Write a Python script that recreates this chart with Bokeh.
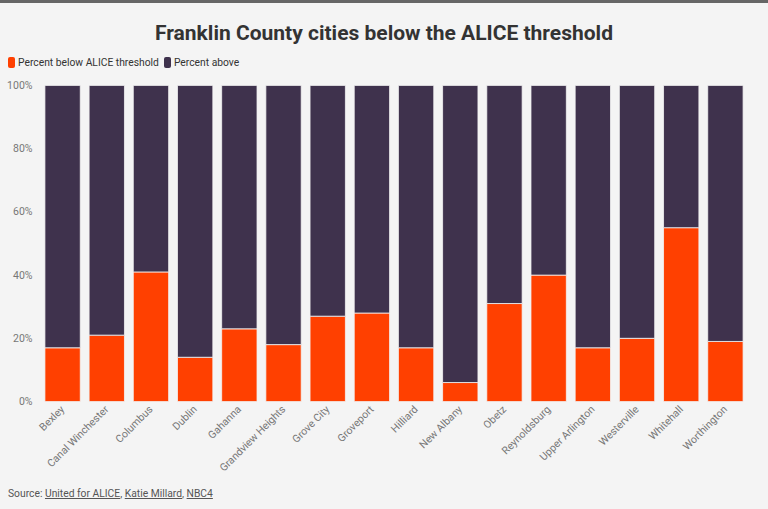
from bokeh.plotting import figure
from bokeh.models import ColumnDataSource, FixedTicker, Div
from bokeh.layouts import column
from bokeh.embed import file_html
from bokeh.resources import INLINE
import math

cities = ["Bexley", "Canal Winchester", "Columbus", "Dublin", "Gahanna",
          "Grandview Heights", "Grove City", "Groveport", "Hilliard", "New Albany",
          "Obetz", "Reynoldsburg", "Upper Arlington", "Westerville", "Whitehall",
          "Worthington"]
below = [17, 21, 41, 14, 23, 18, 27, 28, 17, 6, 31, 40, 17, 20, 55, 19]
above = [83, 79, 59, 86, 77, 82, 73, 72, 83, 94, 69, 60, 83, 80, 45, 81]
y_ticks = [0, 20, 40, 60, 80, 100]
series_labels = ["Percent below ALICE threshold", "Percent above"]
title_text = "Franklin County cities below the ALICE threshold"
source_links = ["United for ALICE", "Katie Millard", "NBC4"]

ORANGE = "#ff4000"
DARK = "#3f324d"
BG = "#f4f4f4"

src = ColumnDataSource(dict(city=cities, below=below, above=above))

p = figure(x_range=cities, y_range=(0, 100), width=768, height=409,
           output_backend="svg", toolbar_location=None,
           min_border_left=40, min_border_right=21, min_border_top=10,
           min_border_bottom=83,
           background_fill_color=BG, border_fill_color=BG, outline_line_color=None)
p.margin = 0

rs = p.vbar_stack(["below", "above"], x="city", width=0.8, color=[ORANGE, DARK],
                  line_color=BG, line_width=0.8, source=src)

p.xgrid.visible = False
p.ygrid.visible = False
for ax in (p.xaxis, p.yaxis):
    ax.axis_line_color = None
    ax.major_tick_line_color = None
    ax.minor_tick_line_color = None
    ax.major_tick_in = 0
    ax.major_tick_out = 0
    ax.major_label_text_color = "#777777"
    ax.major_label_text_font = "Roboto"
    ax.major_label_text_font_size = "10.5px"
p.xaxis.major_label_orientation = math.pi / 4
p.xaxis.major_label_standoff = 6
p.yaxis.ticker = FixedTicker(ticks=y_ticks)
p.yaxis.major_label_overrides = {t: f"{t}%" for t in y_ticks}
p.yaxis.major_label_standoff = 8

bar = Div(text="", width=768, height=3, margin=0,
          styles={"background-color": "#666666"})

title = Div(text=(f'<div style="width:768px;text-align:center;font-family:Roboto;'
                  f'font-weight:bold;font-size:21px;line-height:21px;color:#333333;'
                  f'padding-top:20px">{title_text}</div>'),
            width=768, height=42, margin=0, styles={"background-color": BG})

def swatch(col):
    return (f'<span style="display:inline-block;width:7px;height:11px;background:{col};'
            f'border-radius:2px;vertical-align:-2px;margin-right:3px"></span>')

legend = Div(text=(f'<div style="font-family:Roboto;font-size:10.3px;line-height:12px;'
                   f'color:#333333;padding-left:8px;padding-top:12px;white-space:nowrap">'
                   f'{swatch(ORANGE)}{series_labels[0]}<span style="display:inline-block;width:5px"></span>'
                   f'{swatch(DARK)}{series_labels[1]}</div>'),
             width=768, height=30, margin=0, styles={"background-color": BG})

links = ", ".join(f'<u>{s}</u>' for s in source_links)
source = Div(text=(f'<div style="font-family:Roboto;font-size:10.3px;line-height:12px;'
                   f'color:#555555;padding-left:8px;padding-top:4px;white-space:nowrap">'
                   f'Source: {links}</div>'),
             width=768, height=25, margin=0, styles={"background-color": BG})

out = column(bar, title, legend, p, source, spacing=0,
             styles={"background-color": BG})
open("out.html", "w").write(file_html(out, INLINE))
